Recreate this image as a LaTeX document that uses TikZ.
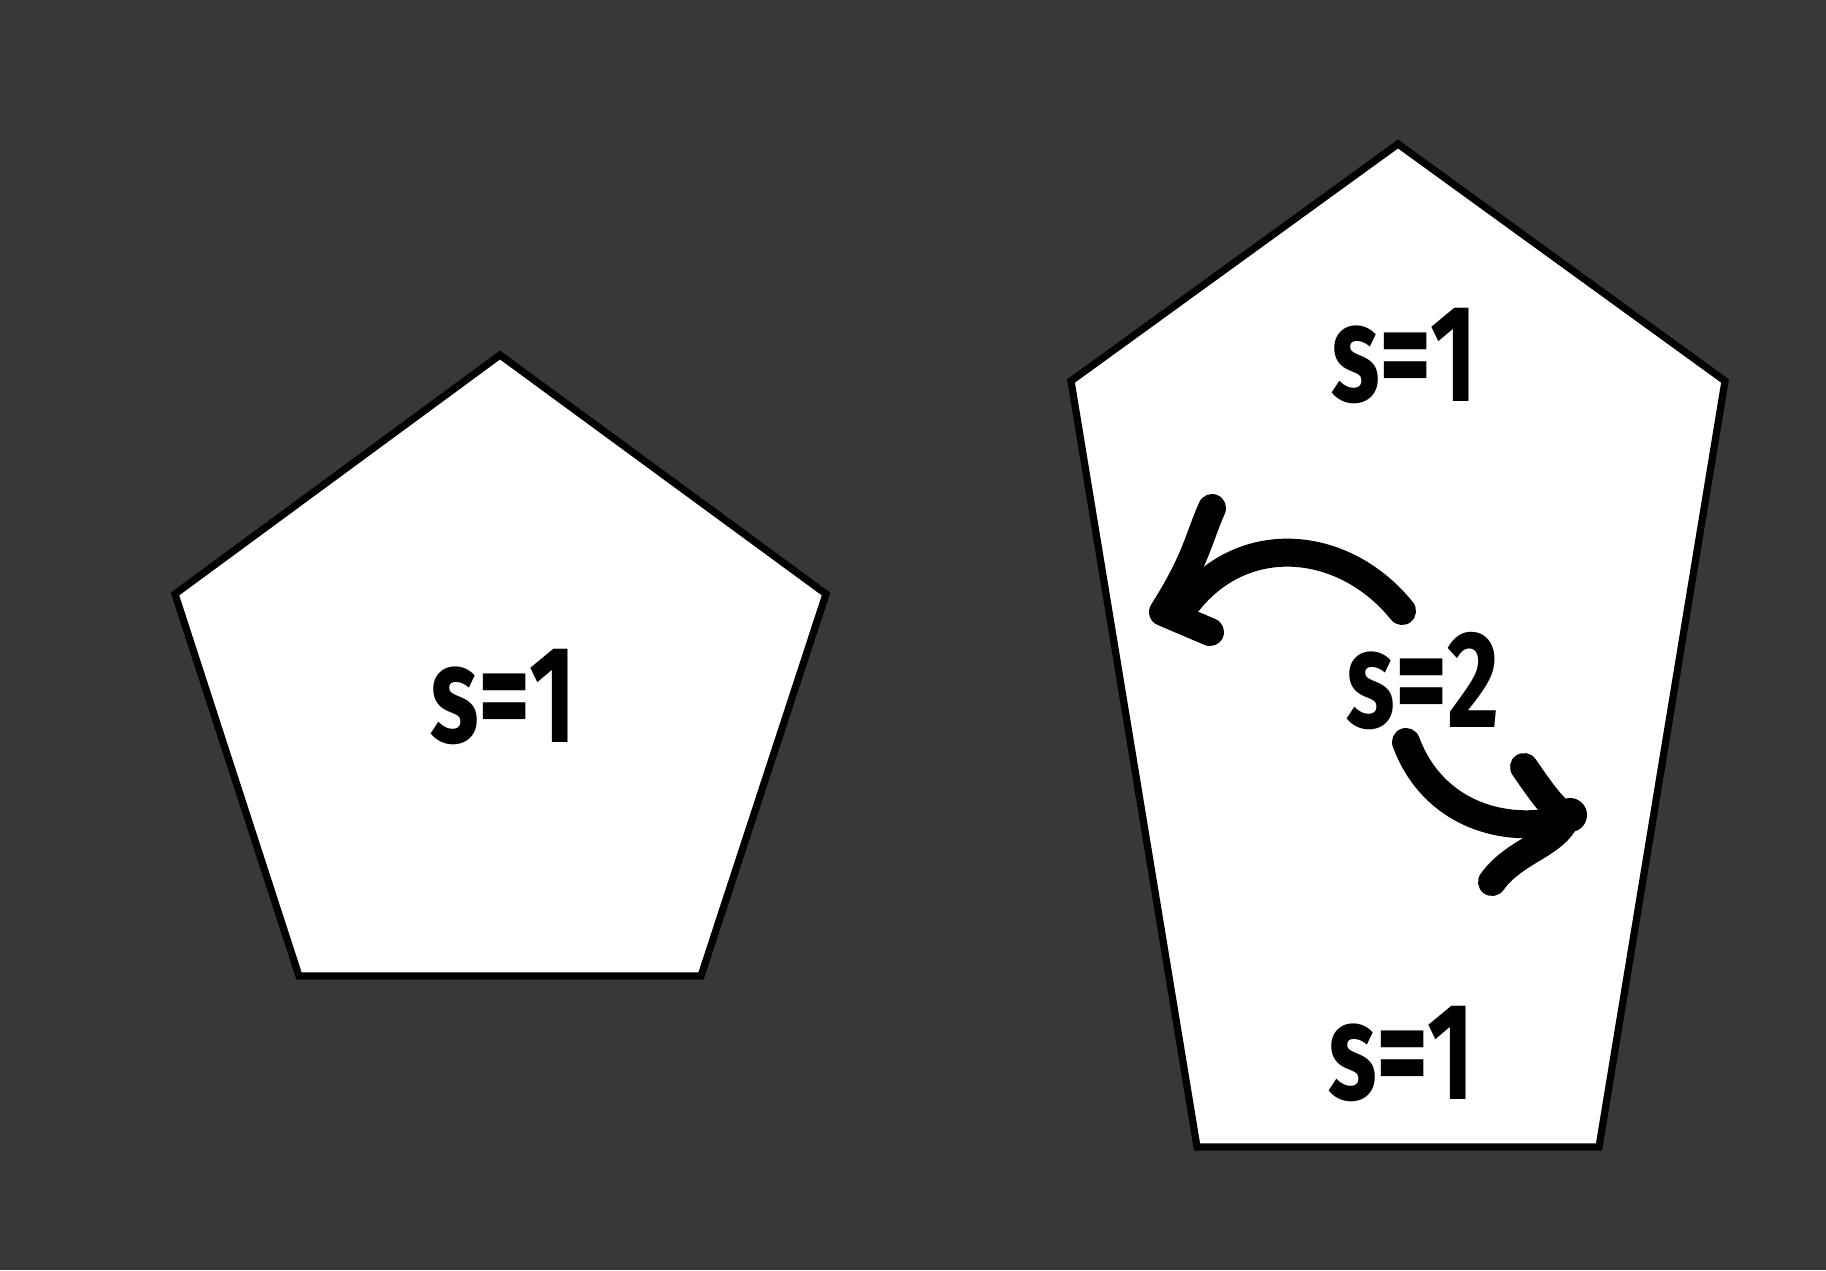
\documentclass[tikz,border=0pt]{standalone}
\usepackage{fontspec}
\setmainfont{Fira Sans}
\usepackage{graphicx}
\definecolor{bg}{HTML}{383838}
\begin{document}
\begin{tikzpicture}[x=0.5pt,y=-0.5pt,
  polyshape/.style={draw=black,fill=white,line width=3.6pt,line join=miter},
  lbl/.style={font=\fontsize{69}{72}\selectfont\bfseries,inner sep=0pt},
  bigarrow/.style={draw=black,line width=14pt,line cap=round,line join=round}]
\fill[bg] (0,0) rectangle (1826,1270);
\useasboundingbox (0,0) rectangle (1826,1270);
% left pentagon
\draw[polyshape] (500,355) -- (826,594) -- (701,976) -- (299,976) -- (175,594) -- cycle;
% right elongated pentagon
\draw[polyshape] (1398,144) -- (1725,381) -- (1599,1147) -- (1197,1147) -- (1071,381) -- cycle;
% labels
\node[lbl] (l1) at (503,697) {\scalebox{0.73}[1]{s=1}};
\node[lbl] (r1) at (1404,356) {\scalebox{0.73}[1]{s=1}};
\node[lbl] (r2) at (1423,681) {\scalebox{0.73}[1]{s=2}};
\node[lbl] (r3) at (1401,1054) {\scalebox{0.73}[1]{s=1}};
% upper arrow
\coordinate (ua0) at (1402,611);
\coordinate (uae) at (1188,602);
\coordinate (uat) at (1163,612);
\coordinate (uab1) at (1212,508);
\coordinate (uab2) at (1210,632);
\draw[bigarrow] (ua0) .. controls (1345,540) and (1245,530) .. (uae);
\draw[bigarrow] (uab1) .. controls (1198,540) and (1196,560) .. (uat) -- (uab2);
% lower arrow
\coordinate (la0) at (1406,742);
\coordinate (lat) at (1566,818);
\coordinate (lab1) at (1524,767);
\coordinate (lab2) at (1492,882);
\draw[bigarrow] (la0) .. controls (1435,820) and (1515,835) .. (lat);
\draw[bigarrow] (lab1) .. controls (1540,790) and (1550,805) .. (lat) .. controls (1555,845) and (1515,850) .. (lab2);
\fill[black] (1570,815) circle (17);
\end{tikzpicture}
\end{document}
